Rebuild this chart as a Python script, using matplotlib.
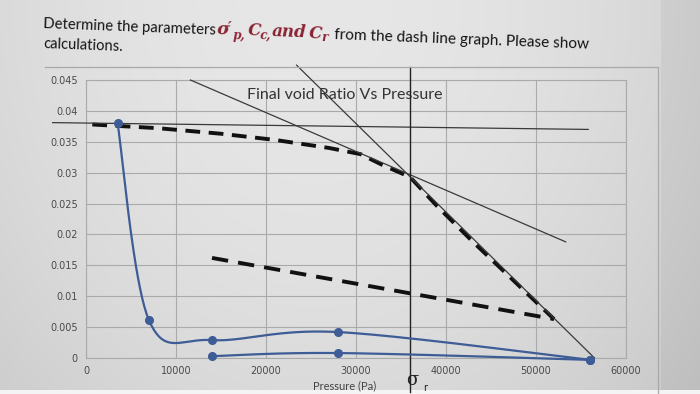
import numpy as np
import matplotlib
matplotlib.use("Agg")
import matplotlib.pyplot as plt
from matplotlib.lines import Line2D

# ---------------- data ----------------
load_p = [3500, 7000, 14000, 28000, 56000]
load_e = [0.0381, 0.0061, 0.0029, 0.0042, -0.0003]
unload_p = [56000, 28000, 14000]
unload_e = [-0.0003, 0.0008, 0.0003]

dash_upper_p = [700, 8000, 15000, 21000, 27000, 30500, 33000, 36000, 39000, 43000, 52000]
dash_upper_e = [0.0378, 0.0372, 0.0363, 0.0353, 0.0340, 0.0330, 0.0312, 0.0293, 0.0246, 0.0188, 0.0063]
dash_lower_p = [14000, 52000]
dash_lower_e = [0.0162, 0.0063]

tangent_p = [11600, 53300]
tangent_e = [0.0450, 0.0188]
steep_p = [23400, 56500]
steep_e = [0.0474, 0.0000]
flat_p = [-3700, 55800]
flat_e = [0.0381, 0.0370]
sigma_line_p = [36000, 36000]
sigma_line_e = [0.0471, -0.0055]

x_ticks = [0, 10000, 20000, 30000, 40000, 50000, 60000]
x_tick_labels = ["0", "10000", "20000", "30000", "40000", "50000", "60000"]
y_ticks = [0, 0.005, 0.01, 0.015, 0.02, 0.025, 0.03, 0.035, 0.04, 0.045]
y_tick_labels = ["0", "0.005", "0.01", "0.015", "0.02", "0.025", "0.03", "0.035", "0.04", "0.045"]

chart_title = "Final void Ratio Vs Pressure"
x_title = "Pressure (Pa)"

# ---------------- figure ----------------
W, H = 700, 394
fig = plt.figure(figsize=(W / 100, H / 100), dpi=100)

# photographed-paper background
bg = fig.add_axes([0, 0, 1, 1], zorder=-10)
X, Y = np.meshgrid(np.linspace(0, 1, W), np.linspace(0, 1, H))
v = 0.905 - 0.075 * ((X - 0.45) / 0.55) ** 2 - 0.05 * Y ** 2
v = np.where(X > 0.945, v - 0.035, v)
v = np.where(Y > 0.99, 0.96, v)
bg.imshow(np.dstack([v, v, v]), aspect="auto", extent=[0, 1, 0, 1], origin="upper")
bg.set_axis_off()

# chart-area border (top and right)
bc = "#a9a9a9"
fig.add_artist(Line2D([45 / W, 658 / W], [(H - 67) / H, (H - 67) / H], color=bc, lw=0.9))
fig.add_artist(Line2D([658 / W, 658 / W], [(H - 67) / H, 0], color=bc, lw=0.9))

L, R, T, B = 86, 626, 80, 358
ax = fig.add_axes([L / W, (H - B) / H, (R - L) / W, (B - T) / H])
ax.set_facecolor("none")
ax.set_xlim(0, 60000)
ax.set_ylim(0, 0.045)
ax.set_xticks(x_ticks)
ax.set_xticklabels(x_tick_labels)
ax.set_yticks(y_ticks)
ax.set_yticklabels(y_tick_labels)
ax.tick_params(length=0, labelsize=7, labelcolor="#4a4a4a")
ax.tick_params(axis="y", pad=6)
ax.tick_params(axis="x", pad=6)
ax.grid(True, color="#aaaaaa", lw=0.8)
ax.set_axisbelow(True)
for s in ax.spines.values():
    s.set_color("#aaaaaa")
    s.set_linewidth(0.8)

ax.set_xlabel(x_title, fontsize=8, color="#444444", family="Lato")
ax.xaxis.set_label_coords((345 - L) / (R - L), (B - 380) / (B - T))
ax.xaxis.label.set_va("top")

ax.text((345 - L) / (R - L), (B - 95) / (B - T), chart_title, transform=ax.transAxes,
        ha="center", va="center", fontsize=11.5, color="#333333", family="Lato")


def smooth(xs, ys, n=40):
    pts = ax.transData.transform(np.column_stack([xs, ys]))
    P = np.vstack([pts[0], pts, pts[-1]])
    segs = []
    t = np.linspace(0, 1, n)[:, None]
    for i in range(1, len(P) - 2):
        p0, p1, p2, p3 = P[i - 1], P[i], P[i + 1], P[i + 2]
        c1 = p1 + (p2 - p0) / 6
        c2 = p2 - (p3 - p1) / 6
        segs.append((1 - t) ** 3 * p1 + 3 * (1 - t) ** 2 * t * c1 + 3 * (1 - t) * t ** 2 * c2 + t ** 3 * p2)
    c = ax.transData.inverted().transform(np.vstack(segs))
    return c[:, 0], c[:, 1]


blue = "#3e5c96"
sx, sy = smooth(load_p, load_e)
ax.plot(sx, sy, color=blue, lw=1.6, zorder=4, clip_on=False)
sx, sy = smooth(unload_p, unload_e)
ax.plot(sx, sy, color=blue, lw=1.6, zorder=4, clip_on=False)
ax.plot(load_p, load_e, "o", color=blue, ms=5.5, zorder=5, clip_on=False)
ax.plot(unload_p, unload_e, "o", color=blue, ms=5.5, zorder=5, clip_on=False)

# dashed (black) lines
ax.plot(dash_upper_p, dash_upper_e, color="#111111", lw=2.8, dashes=(3.8, 2.2), zorder=3)
ax.plot(dash_lower_p, dash_lower_e, color="#111111", lw=2.8, dashes=(4.2, 2.6), zorder=3)

# construction lines
lc = "#3a3a3a"
ax.plot(tangent_p, tangent_e, color=lc, lw=0.9, zorder=3, clip_on=False)
ax.plot(steep_p, steep_e, color=lc, lw=0.9, zorder=3, clip_on=False)
ax.plot(flat_p, flat_e, color=lc, lw=0.9, zorder=3, clip_on=False)
ax.plot(sigma_line_p, sigma_line_e, color="#222222", lw=1.0, zorder=3, clip_on=False)

# handwritten mark
ax.text(36300, -0.0036, "σ", fontsize=13, family="DejaVu Serif", color="#222222",
        ha="center", va="center", clip_on=False)
ax.text(37700, -0.0048, "r", fontsize=7, family="DejaVu Sans", color="#222222",
        ha="center", va="center", clip_on=False)

# ---------------- header text ----------------
slope = 0.038
ang = -np.degrees(np.arctan(slope))
renderer = fig.canvas.get_renderer()


def piece(x_px, text, y0=27.7, dy=0.0, target=None, **kw):
    yb = y0 + slope * (x_px - 43) + dy
    t = fig.text(x_px / W, (H - yb) / H, text, ha="left", va="baseline", **kw)
    if target is not None:
        w = t.get_window_extent(renderer).width
        t.set_fontsize(t.get_fontsize() * target / w)
    t.set_rotation(ang)
    t.set_rotation_mode("anchor")
    return t


black = "#141414"
red = "#8a2233"
piece(43, "Determine the parameters", target=172, fontsize=12, family="Lato", color=black)
piece(334, "from the dash line graph. Please show", target=254, fontsize=12, family="Lato", color=black)
piece(43, "calculations.", y0=48.5, target=79, fontsize=12, family="Lato", color=black)

mkw = dict(family="DejaVu Serif", fontweight="bold", fontstyle="italic", color=red)
piece(217, "σ", fontsize=12.5, **mkw)
piece(228, "′", dy=-3, fontsize=10, **mkw)
piece(233, "p,", dy=4, fontsize=8.5, **mkw)
piece(248, "C", fontsize=12, **mkw)
piece(260, "c,", dy=3, fontsize=8.5, **mkw)
piece(272, "and", fontsize=12, **mkw)
piece(309, "C", fontsize=12, **mkw)
piece(321, "r", dy=3, fontsize=8.5, **mkw)

fig.savefig("out.png", dpi=100)
